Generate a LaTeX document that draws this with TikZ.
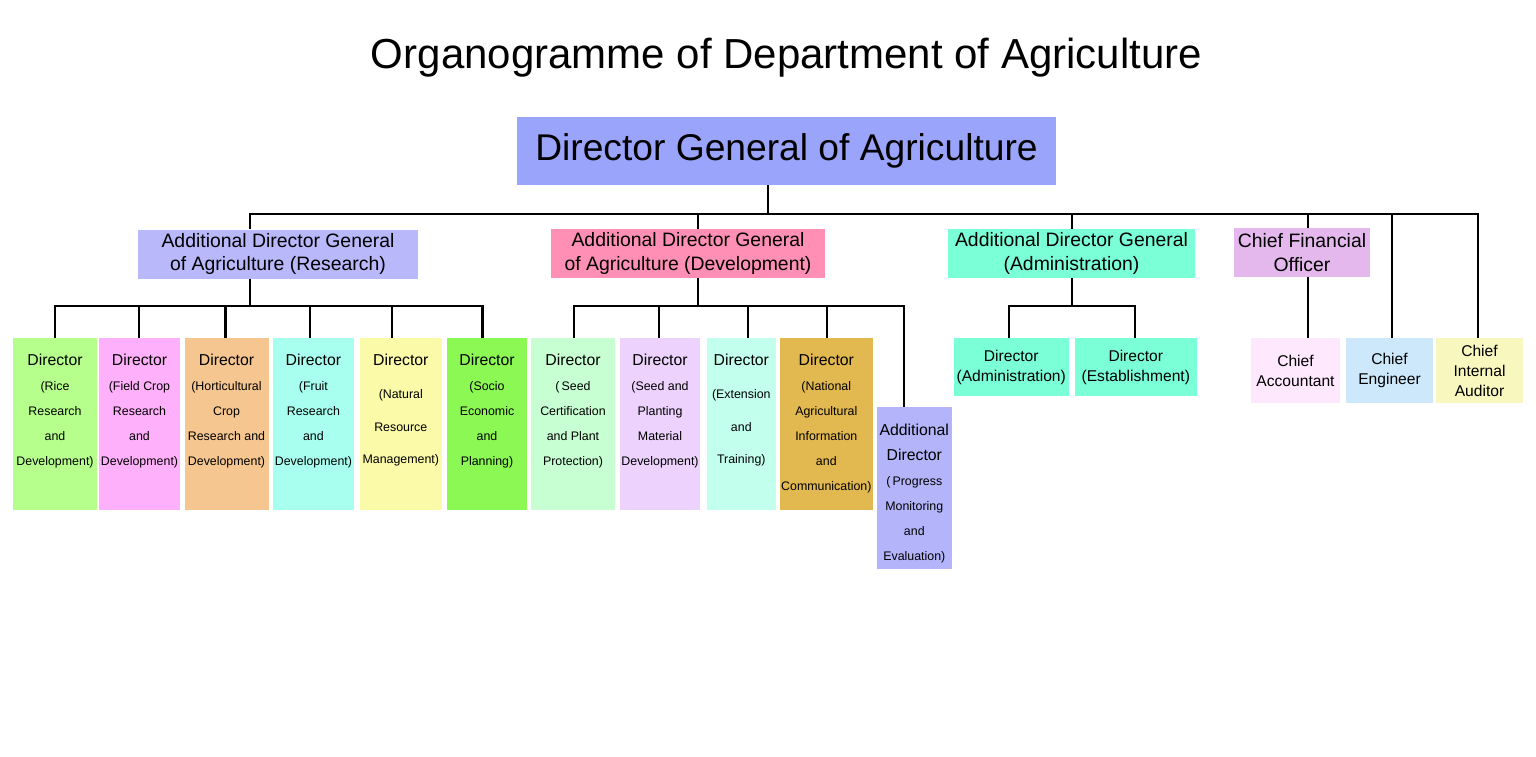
\documentclass[tikz,border=0pt]{standalone}
\usepackage{fontspec}
\setmainfont{Liberation Sans}
\usetikzlibrary{positioning}
\definecolor{cdg}{HTML}{99A4FA}
\definecolor{cadgr}{HTML}{B8B8FA}
\definecolor{cadgd}{HTML}{FF8FB5}
\definecolor{cadga}{HTML}{7AFFD6}
\definecolor{ccfo}{HTML}{E4B8EC}
\definecolor{crice}{HTML}{B7FF8C}
\definecolor{cfield}{HTML}{FFB0FA}
\definecolor{chort}{HTML}{F5C68F}
\definecolor{cfruit}{HTML}{A8FFF0}
\definecolor{cnatres}{HTML}{FAFAA8}
\definecolor{csocio}{HTML}{8CF854}
\definecolor{cseedc}{HTML}{C8FFD2}
\definecolor{cseedp}{HTML}{ECD2FC}
\definecolor{cext}{HTML}{C2FFEC}
\definecolor{cnatinfo}{HTML}{E2B850}
\definecolor{caddl}{HTML}{B4B4FA}
\definecolor{cca}{HTML}{FDE8FD}
\definecolor{cce}{HTML}{CCE8FA}
\definecolor{ccia}{HTML}{F8F8BE}
\newcommand\dirhead{\fontsize{7.9}{9}\selectfont}

\begin{document}
\begin{tikzpicture}
  [x=0.5pt, y=-0.5pt,
  box/.style={rectangle, inner sep=0pt, align=center},
  tall/.style={box, minimum height=86pt},
  big/.style={font=\fontsize{9.7}{11.7}\selectfont},
  small/.style={font=\fontsize{7.8}{10}\selectfont},
  sub/.style={anchor=north, inner sep=0pt, align=center, font=\fontsize{6.2}{12.5}\selectfont},
  subwide/.style={sub, font=\fontsize{6.2}{16.3}\selectfont},
  wire/.style={line width=1.4pt},
  bar/.style={wire, line cap=rect}]
  \path[fill=white, use as bounding box] (0,0) rectangle (1536,756);

  \node[font=\fontsize{21}{25}\selectfont, anchor=base] (title) at (786.5,68)
    {Organogramme of Department of Agriculture};

  \node[box, fill=cdg, minimum width=269.5pt, minimum height=34pt,
    font=\fontsize{18.6}{22}\selectfont] (dg) at (786.5,151) {Director General of Agriculture};

  \node[box, big, fill=cadgr, minimum width=140pt, minimum height=24.5pt] (adgr) at (278,254)
    {Additional Director General\\of Agriculture (Research)};
  \node[box, big, fill=cadgd, minimum width=137pt, minimum height=24.5pt] (adgd) at (688,253.5)
    {Additional Director General\\of Agriculture (Development)};
  \node[box, big, fill=cadga, minimum width=123.5pt, minimum height=24.5pt] (adga) at (1071.5,253.5)
    {Additional Director General\\(Administration)};
  \node[box, big, fill=ccfo, minimum width=68pt, minimum height=24.5pt] (cfo) at (1302,252.5)
    {Chief Financial\\Officer};

  \node[tall, fill=crice, minimum width=42pt] (rice) at (55,424) {};
  \node[tall, fill=cfield, minimum width=40.5pt] (field) at (139.5,424) {};
  \node[tall, fill=chort, minimum width=42pt] (hort) at (226.5,424) {};
  \node[tall, fill=cfruit, minimum width=40.5pt] (fruit) at (313.4,424) {};
  \node[tall, fill=cnatres, minimum width=41pt] (natres) at (400.8,424) {};
  \node[tall, fill=csocio, minimum width=40pt] (socio) at (487,424) {};
  \node[tall, fill=cseedc, minimum width=42pt] (seedc) at (573,424) {};
  \node[tall, fill=cseedp, minimum width=40pt] (seedp) at (660,424) {};
  \node[tall, fill=cext, minimum width=34.6pt] (ext) at (741.3,424) {};
  \node[tall, fill=cnatinfo, minimum width=46.3pt] (natinfo) at (826.3,424) {};
  \node[box, fill=caddl, minimum width=37.4pt, minimum height=81pt] (addl) at (914.3,488) {};

  \node[sub] (rice-t) at (55,354) {{\dirhead Director}\\(Rice\\Research\\and\\Development)};
  \node[sub] (field-t) at (139.5,354) {{\dirhead Director}\\(Field Crop\\Research\\and\\Development)};
  \node[sub] (hort-t) at (226.5,354) {{\dirhead Director}\\(Horticultural\\Crop\\Research and\\Development)};
  \node[sub] (fruit-t) at (313.4,354) {{\dirhead Director}\\(Fruit\\Research\\and\\Development)};
  \node[subwide] (natres-t) at (400.8,354) {{\dirhead Director}\\(Natural\\Resource\\Management)};
  \node[sub] (socio-t) at (487,354) {{\dirhead Director}\\(Socio\\Economic\\and\\Planning)};
  \node[sub] (seedc-t) at (573,354) {{\dirhead Director}\\(\,Seed\\Certification\\and Plant\\Protection)};
  \node[sub] (seedp-t) at (660,354) {{\dirhead Director}\\(Seed and\\Planting\\Material\\Development)};
  \node[subwide] (ext-t) at (741.3,354) {{\dirhead Director}\\(Extension\\and\\Training)};
  \node[sub] (natinfo-t) at (826.3,354) {{\dirhead Director}\\(National\\Agricultural\\Information\\and\\Communication)};
  \node[sub] (addl-t) at (914.3,423.5) {{\dirhead Additional}\\{\dirhead Director}\\(\,Progress\\Monitoring\\and\\Evaluation)};

  \node[box, small, fill=cadga, minimum width=57.3pt, minimum height=29pt] (dadm) at (1011.2,367)
    {Director\\(Administration)};
  \node[box, small, fill=cadga, minimum width=60.9pt, minimum height=29pt] (dest) at (1135.8,367)
    {Director\\(Establishment)};
  \node[box, small, fill=cca, minimum width=44.5pt, minimum height=32.5pt] (ca) at (1295.5,370.5)
    {Chief\\Accountant};
  \node[box, small, fill=cce, minimum width=43.5pt, minimum height=32.5pt] (ce) at (1389.5,370.5)
    {Chief\\Engineer};
  \node[box, small, fill=ccia, minimum width=43.5pt, minimum height=32.5pt] (cia) at (1479.5,370.5)
    {Chief\\Internal\\Auditor};

  \coordinate (top) at (768,214);
  \coordinate (topl) at (250,214);
  \coordinate (topr) at (1478,214);
  \draw[wire] (dg.south -| top) -- (top);
  \draw[bar] (topl) -- (topr);
  \foreach \n/\x in {adgr/250, adgd/698, adga/1072, cfo/1308, ce/1392, cia/1478}
    \draw[wire] (top -| \x,0) -- (\n.north -| \x,0);

  \coordinate (resl) at (55,306);
  \coordinate (resr) at (482.5,306);
  \draw[wire] (adgr.south -| 250,0) -- (resl -| 250,0);
  \draw[bar] (resl) -- (resr);
  \foreach \n/\x in {rice/55, field/139, hort/225.5, fruit/310, natres/392, socio/482.5}
    \draw[wire] (resl -| \x,0) -- (\n.north -| \x,0);

  \coordinate (devl) at (574,306);
  \coordinate (devr) at (904,306);
  \draw[wire] (adgd.south -| 698,0) -- (devl -| 698,0);
  \draw[bar] (devl) -- (devr);
  \foreach \n/\x in {seedc/574, seedp/659, ext/748, natinfo/827, addl/904}
    \draw[wire] (devl -| \x,0) -- (\n.north -| \x,0);

  \coordinate (adml) at (1009,306);
  \coordinate (admr) at (1135,306);
  \draw[wire] (adga.south -| 1072,0) -- (adml -| 1072,0);
  \draw[bar] (adml) -- (admr);
  \foreach \n/\x in {dadm/1009, dest/1135}
    \draw[wire] (adml -| \x,0) -- (\n.north -| \x,0);

  \draw[wire] (cfo.south -| 1308,0) -- (ca.north -| 1308,0);
\end{tikzpicture}
\end{document}
